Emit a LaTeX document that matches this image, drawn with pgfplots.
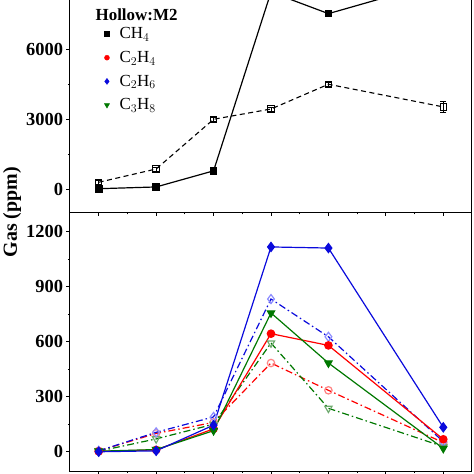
\documentclass[border=0pt]{standalone}
\usepackage{fontspec}
\setmainfont{Liberation Serif}
\usepackage{pgfplots}
\pgfplotsset{compat=1.18}
\definecolor{cred}{RGB}{255,0,0}
\definecolor{cblue}{RGB}{10,10,220}
\definecolor{cgreen}{RGB}{0,120,0}
\definecolor{lblue}{RGB}{140,140,255}
\definecolor{lred}{RGB}{255,130,130}
\definecolor{lgreen}{RGB}{110,170,110}
\pgfplotsset{myax/.style={width=402bp, scale only axis, xmin=0.5, xmax=7.5,
  xtick={1,...,7}, minor x tick num=1, xticklabels={},
  tick align=outside, major tick length=3.5bp, minor tick length=2bp,
  axis line style={line width=1bp}, tick style={line width=0.9bp, black},
  yticklabel style={font=\fontsize{18.5}{18.5}\selectfont\bfseries},
  /pgf/number format/assume math mode=true,
  /pgf/number format/set thousands separator={}},
  sol/.style={line width=1.2bp, forget plot},
  dd/.style={line width=1.2bp, dash pattern=on 7bp off 3bp on 1.5bp off 3bp, forget plot}}
\begin{document}
\begin{tikzpicture}
% bottom panel
\begin{axis}[myax, at={(0,0)}, anchor=south west, height=258.7bp,
  ymin=-105, ymax=1306, ytick={0,300,600,900,1200}, minor y tick num=1,
  xtick pos=bottom, ytick pos=left]
\addplot[dd, cred, mark=o, mark size=3.7bp, mark options={solid, draw=lred, fill=white}] coordinates {(1,5)(2,100)(3,160)(4,484)(5,335)(7,50)};
\addplot[dd, cgreen, mark=triangle, mark size=4.2bp, mark options={solid, rotate=180, draw=lgreen, fill=white}] coordinates {(1,3)(2,70)(3,150)(4,593)(5,237)(7,28)};
\addplot[dd, cblue, mark=diamond, mark size=4.5bp, mark options={solid, draw=lblue, fill=white}] coordinates {(1,5)(2,106)(3,190)(4,833)(5,627)(7,55)};
\addplot[sol, cred, mark=*, mark size=3.7bp] coordinates {(1,2)(2,10)(3,125)(4,644)(5,580)(7,68)};
\addplot[sol, cgreen, mark=triangle*, mark size=4.2bp, mark options={rotate=180}] coordinates {(1,3)(2,12)(3,115)(4,757)(5,484)(7,18)};
\addplot[sol, cblue, mark=diamond*, mark size=4.5bp] coordinates {(1,0)(2,5)(3,145)(4,1117)(5,1111)(7,133)};
\end{axis}
% top panel
\begin{axis}[myax, at={(0,258.7bp)}, anchor=south west, height=212.3bp,
  ymin=-986, ymax=8111, ytick={0,3000,6000}, minor y tick num=1,
  axis x line*=bottom, axis y line*=box, xtick pos=bottom, ytick pos=left,
  legend style={at={(rel axis cs:0.085,0.88)}, anchor=north west, draw=none, fill=none,
    font=\fontsize{17}{17}\selectfont, row sep=7bp, inner sep=0pt,
    /tikz/every odd column/.append style={column sep=8bp}},
  legend cell align=left]
\addplot[line width=1.1bp, black, dash pattern=on 5bp off 3.5bp, mark=square, mark size=3.2bp,
  mark options={solid, fill=white}, forget plot,
  error bars/.cd, y dir=both, y explicit, error bar style={solid, line width=0.8bp}]
  coordinates {(1,300)+-(0,100)(2,870)+-(0,90)(3,3000)+-(0,80)(4,3440)+-(0,90)(5,4500)+-(0,70)(7,3530)+-(0,240)};
\addplot[sol, black, mark=square*, mark size=3.2bp] coordinates {(1,25)(2,100)(3,790)(4,8450)(5,7526)(7,8930)};
\addlegendimage{only marks, black, mark=square*, mark size=2.5bp}
\addlegendentry{CH$_4$}
\addlegendimage{only marks, cred, mark=*, mark size=2.5bp}
\addlegendentry{C$_2$H$_4$}
\addlegendimage{only marks, cblue, mark=diamond*, mark size=3bp}
\addlegendentry{C$_2$H$_6$}
\addlegendimage{only marks, cgreen, mark=triangle*, mark size=3bp, mark options={rotate=180}}
\addlegendentry{C$_3$H$_8$}
\node[anchor=west, font=\fontsize{17}{17}\selectfont\bfseries] at (rel axis cs:0.055,0.93) {Hollow:M2};
\end{axis}
\node[rotate=90, font=\fontsize{20}{20}\selectfont\bfseries] at (-58bp,258.7bp) {Gas (ppm)};
\pgfresetboundingbox
\useasboundingbox (-70bp,-3bp) rectangle (404bp,471bp);
\end{tikzpicture}
\end{document}
